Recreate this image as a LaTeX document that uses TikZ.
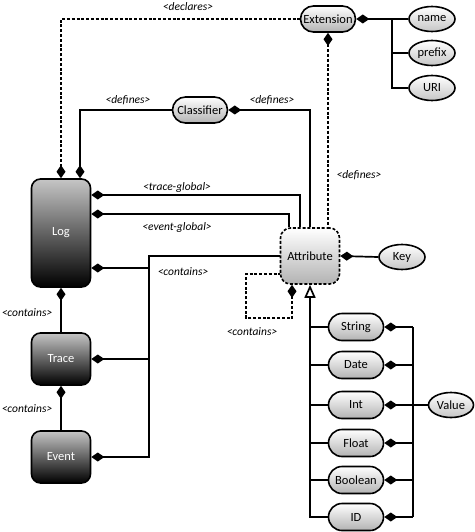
\documentclass[tikz,border=0pt]{standalone}
\usepackage{fontspec}
\setmainfont{Carlito}
\usetikzlibrary{arrows.meta,shapes.misc,shapes.geometric}

\tikzset{
  darkbox/.style={draw,line width=1.6pt,rounded corners=9pt,top color=gray!45,bottom color=black,
    text=white,minimum width=59pt,font=\fontsize{12.5}{14}\selectfont},
  lightbox/.style={draw,line width=1.6pt,rounded rectangle,top color=white,bottom color=gray!60,
    minimum width=59pt,minimum height=26pt,inner xsep=2pt,font=\fontsize{12.5}{14}\selectfont},
  attrbox/.style={draw,line width=1.6pt,dash pattern=on 3pt off 1.8pt,rounded corners=10pt,
    top color=white,bottom color=gray!60,minimum width=59pt,minimum height=56pt,font=\fontsize{12.5}{14}\selectfont},
  prop/.style={draw,line width=1.6pt,ellipse,top color=white,bottom color=gray!45,
    minimum width=46pt,minimum height=25pt,inner sep=0pt,font=\fontsize{12.5}{14}\selectfont},
  lbl/.style={font=\fontsize{11.5}{13}\selectfont\itshape},
  comp/.style={{Diamond[length=13pt,width=9pt]}-},
  dotline/.style={dash pattern=on 3pt off 1.8pt}
}

\begin{document}
\begin{tikzpicture}[x=1pt,y=-1pt,line width=1.7pt]
  \useasboundingbox (0,0) rectangle (474,532);

  % main classes
  \node[darkbox,minimum height=108pt] (log)   at (61,233) {Log};
  \node[darkbox,minimum height=52pt]  (trace) at (61,359) {Trace};
  \node[darkbox,minimum height=52pt]  (event) at (61,457) {Event};
  \node[lightbox] (ext)  at (328,19)  {Extension};
  \node[lightbox] (cls)  at (200,110) {Classifier};
  \node[attrbox]  (attr) at (310,256) {Attribute};

  % properties
  \node[prop] (name)   at (432,19)  {name};
  \node[prop] (prefix) at (432,53)  {prefix};
  \node[prop] (uri)    at (432,88)  {URI};
  \node[prop] (key)    at (402,257) {Key};
  \node[prop,minimum width=45pt] (value) at (451,405) {Value};

  % attribute types
  \foreach \n/\t/\y in {string/String/327,date/Date/365,int/Int/405,
                        float/Float/443,boolean/Boolean/480,id/ID/517}
    \node[lightbox,minimum height=27pt] (\n) at (356,\y) {\t};

  \coordinate (ebus) at (392,0);
  \coordinate (vbus) at (413,0);
  \coordinate (cbus) at (149,0);

  % extension
  \draw[comp] (ext.east) -- (name.west);
  \draw (prefix.west) -- (prefix.west -| ebus);
  \draw (uri.west) -| (name.west -| ebus);
  \draw[comp,dotline] (log.north) |- (ext.west);
  \draw[comp,dotline] (ext.south) -- (ext.south |- attr.north);

  % classifier
  \draw[comp] ([xshift=19pt]log.north) |- (cls.west);
  \draw[comp] (cls.east) -| (attr.north);

  % globals
  \draw[comp] ([yshift=38pt]log.east) -| ([xshift=-10pt]attr.north);
  \draw[comp] ([yshift=19pt]log.east) -| ([xshift=-21pt]attr.north);

  % contains
  \draw[comp] (event.east) -| (attr.west -| cbus) -- (attr.west);
  \draw[comp] (trace.east) -- (trace.east -| cbus);
  \draw[comp] ([yshift=-35pt]log.east) -- ([yshift=-35pt]log.east -| cbus);
  \draw[comp] (log.south) -- (trace.north);
  \draw[comp] (trace.south) -- (event.north);

  % attribute
  \coordinate (loopc) at (246,318);
  \draw[comp,dotline] ([xshift=-18pt]attr.south) |- (loopc) |- ([yshift=-18pt]attr.west);
  \draw[comp] (attr.east) -- (key.west);
  \draw[-{Triangle[open,length=13pt,width=11pt]}] (id.west) -| (attr.south);
  \foreach \n in {string,date,int,float,boolean}
    \draw (\n.west) -- (\n.west -| attr.south);
  \foreach \n in {string,date,float,boolean,id}
    \draw[comp] (\n.east) -- (\n.east -| vbus);
  \draw[comp] (int.east) -- (value.west);
  \draw (string.east -| vbus) -- (id.east -| vbus);

  % labels
  \node[lbl] at (188,7)   {<declares>};
  \node[lbl] at (128,100) {<defines>};
  \node[lbl] at (272,100) {<defines>};
  \node[lbl] at (359,175) {<defines>};
  \node[lbl] at (177,187) {<trace-global>};
  \node[lbl] at (177,227) {<event-global>};
  \node[lbl] at (183,272) {<contains>};
  \node[lbl] at (252,332) {<contains>};
  \node[lbl] at (27,313)  {<contains>};
  \node[lbl] at (27,409)  {<contains>};
\end{tikzpicture}
\end{document}
